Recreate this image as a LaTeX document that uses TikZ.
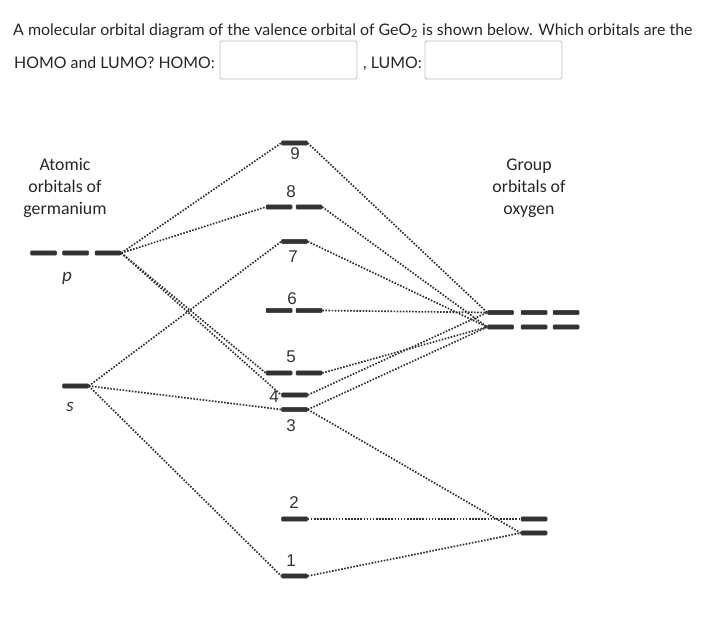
\documentclass[tikz,border=0pt]{standalone}
\usepackage{fontspec}
\setmainfont{Lato}
\newfontfamily\numfont{Liberation Sans}
\newfontfamily\capfont{Carlito}
\usetikzlibrary{positioning}
\definecolor{barcol}{HTML}{333333}
\tikzstyle{bar}=[rectangle,fill=barcol,draw=barcol,line width=0.5pt,rounded corners=1pt,inner sep=0pt,minimum width=26pt,minimum height=4.4pt]
\tikzstyle{link}=[line width=1.7pt,dash pattern=on 1.6pt off 1.5pt,color=barcol]
\tikzstyle{num}=[inner sep=0pt,font=\numfont\fontsize{17}{17}\selectfont,color=barcol]
\tikzstyle{caption}=[inner sep=0pt,align=center,font=\capfont\fontsize{17.8}{22}\selectfont,color=black!85]
\tikzstyle{orbname}=[inner sep=0pt,font=\capfont\itshape\fontsize{19}{19}\selectfont,color=barcol]
\tikzstyle{question}=[inner sep=0pt,anchor=base west,font=\fontsize{15.9}{18}\selectfont,color=black!85]
\tikzstyle{answer}=[rectangle,draw=black!25,line width=0.8pt,rounded corners=1.5pt,inner sep=0pt,minimum width=137pt,minimum height=38pt]

\begin{document}
\begin{tikzpicture}[x=1pt,y=-1pt]
	\useasboundingbox (0,0) rectangle (716,619);
	% question
	\node[question] (line1) at (13,35) {A molecular orbital diagram of the valence orbital of GeO\textsubscript{2} is shown below. Which orbitals are the};
	\node[question] (line2) at (14,68.5) {HOMO and LUMO? HOMO:};
	\node[answer] (homo) at (288.5,60) {};
	\node[question] (line3) at (363,68.5) {, LUMO:};
	\node[answer] (lumo) at (493.5,60) {};
	% captions
	\node[caption] (atomic) at (65,188) {Atomic\\orbitals of\\germanium};
	\node[caption] (group) at (529,188) {Group\\orbitals of\\oxygen};
	\node[orbname] (plabel) at (67,278) {p};
	\node[orbname] (slabel) at (70,407) {s};
	% germanium
	\node[bar] (p1) at (43.5,253) {};
	\node[bar] (p2) at (75.5,253) {};
	\node[bar] (p3) at (108,253) {};
	\node[bar] (s) at (75.5,386) {};
	% molecular orbitals
	\node[bar] (m9) at (294.5,143) {};
	\node[bar] (m8a) at (279,207) {};
	\node[bar] (m8b) at (309,207) {};
	\node[bar] (m7) at (294.5,241.5) {};
	\node[bar] (m6a) at (279,310.5) {};
	\node[bar] (m6b) at (309,310.5) {};
	\node[bar] (m5a) at (279,373) {};
	\node[bar] (m5b) at (309,373) {};
	\node[bar] (m4) at (294.5,395) {};
	\node[bar] (m3) at (294.5,409.5) {};
	\node[bar] (m2) at (294.5,519) {};
	\node[bar] (m1) at (294.5,576) {};
	% oxygen
	\node[bar] (a1) at (500.5,312.5) {};
	\node[bar] (a2) at (534,312.5) {};
	\node[bar] (a3) at (566,312.5) {};
	\node[bar] (b1) at (500.5,327) {};
	\node[bar] (b2) at (534,327) {};
	\node[bar] (b3) at (566,327) {};
	\node[bar] (c1) at (534,519) {};
	\node[bar] (c2) at (534,533) {};
	% level numbers
	\node[num] (n9) at (295,153.5) {9};
	\node[num] (n8) at (291,192) {8};
	\node[num] (n7) at (293,257) {7};
	\node[num] (n6) at (292,299) {6};
	\node[num] (n5) at (291,357) {5};
	\node[num] (n4) at (274,397) {4};
	\node[num] (n3) at (291,426) {3};
	\node[num] (n2) at (294,503) {2};
	\node[num] (n1) at (291,561) {1};
	% left side
	\path [link] (p3.east) edge (m9.west);
	\path [link] (p3.east) edge (m8a.west);
	\path [link] (p3.east) edge (m5a.west);
	\path [link] (p3.east) edge (m4.west);
	\path [link] (s.east) edge (m7.west);
	\path [link] (s.east) edge (m3.west);
	\path [link] (s.east) edge (m1.west);
	% right side
	\path [link] (m9.east) edge (a1.west);
	\path [link] (m8b.east) edge (b1.west);
	\path [link] (m7.east) edge (b1.west);
	\path [link] (m6b.east) edge (a1.west);
	\path [link] (m5b.east) edge (b1.west);
	\path [link] (m4.east) edge (a1.west);
	\path [link] (m3.east) edge (b1.west);
	\path [link] (m3.east) edge (c2.west);
	\path [link] (m2.east) edge (c1.west);
	\path [link] (m1.east) edge (c2.west);
\end{tikzpicture}
\end{document}
